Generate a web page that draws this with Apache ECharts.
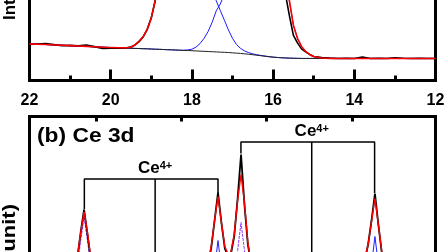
<!DOCTYPE html>
<html>
<head>
<meta charset="utf-8">
<script src="https://cdn.jsdelivr.net/npm/echarts@6/dist/echarts.min.js"></script>
<style>
html,body{margin:0;padding:0;background:#fff;}
#chart{width:448px;height:252px;}
</style>
</head>
<body>
<div id="chart"></div>
<script>
// ---------- (a) top panel: energy (eV) ----------
const topEnergy = [22.0,21.8,21.6,21.4,21.2,21.0,20.8,20.6,20.4,20.2,20.0,19.8,19.6,
  19.5,19.4,19.3,19.2,19.1,19.0,18.9,18.8,18.7,18.6,18.5,18.4,18.3,18.2,18.1,18.0,
  17.9,17.8,17.7,17.6,17.5,17.4,17.3,17.2,17.1,17.0,16.9,16.8,16.7,16.6,16.5,16.4,
  16.3,16.2,16.1,16.0,15.9,15.8,15.7,15.6,15.5,15.4,15.3,15.2,15.1,15.0,
  14.8,14.6,14.4,14.2,14.0,13.8,13.6,13.4,13.2,13.0,12.8,12.6,12.4,12.2,12.0];
const topData = [36,36.4,36.8,35.8,34.6,35,34.5,35.3,33.8,32,32.2,32.3,32.7,
  33.5,35.5,38.8,43.5,51,62.5,80.5,96,110,122,134,141,145,146,144,141,
  137,130,124,119,118,120,118,118,121,124,131,139,148,154,158,159,
  157,153,146,137,124,108,87,65,45,37.5,31.5,28.5,26,24,
  22.8,22.3,22,22.1,22,23.3,22,22.1,22,22.6,22.2,22,22.1,22,22];
const topFit = [36.5,36.2,35.9,35.5,35.2,34.8,34.4,34.0,33.6,33.2,32.9,32.6,32.7,
  33.4,35.5,39.4,43.7,51.1,62.4,80.2,95.1,109.9,122.7,133.6,140.4,144.2,145.2,144.5,141.2,
  136.3,129.8,124.1,118.9,118.2,120.5,117.8,118.1,120.4,124.1,130.8,139,147.4,153.8,157.6,158.7,
  158,154.4,148.8,141.3,131,118.7,102.5,79.8,55.2,42.1,34,29,26,24,
  22.5,22.1,22,22,22,22,22,22,22,22,22,22,22,22,22];
const topBackground = [36.5,36.2,35.9,35.5,35.2,34.8,34.4,34.0,33.6,33.2,32.9,32.6,32.3,
  32.2,32.0,31.9,31.7,31.6,31.4,31.2,31.1,30.9,30.7,30.6,30.4,30.2,30.0,29.9,29.7,
  29.5,29.3,29.1,28.9,28.7,28.5,28.3,28.1,27.9,27.6,27.3,27.0,26.6,26.2,25.7,25.2,
  24.7,24.2,23.7,23.3,23.0,22.7,22.5,22.3,22.2,22.1,22.0,22,22,22,
  22,22,22,22,22,22,22,22,22,22,22,22,22,22,22];
const topPeak1 = [36.5,36.2,35.9,35.5,35.2,34.8,34.4,34.0,33.6,33.2,32.9,32.6,32.7,
  33.4,35.5,39.4,43.7,51.1,62.4,80.2,95.1,109.9,122.7,133.6,140.4,144.2,145.0,143.9,139.7,
  132.5,122.3,111.1,98.9,88.7,79.5,69.8,60.1,50.4,42.1,35.8,32.0,29.4,27.8,26.6,25.7,
  25.0,24.4,23.8,23.3,23.0,22.7,22.5,22.3,22.2,22.1,22,22,22,22,
  22,22,22,22,22,22,22,22,22,22,22,22,22,22,22];
const topPeak2 = [36.5,36.2,35.9,35.5,35.2,34.8,34.4,34.0,33.6,33.2,32.9,32.6,32.3,
  32.2,32.0,31.9,31.7,31.6,31.4,31.2,31.1,30.9,30.7,30.6,30.4,30.2,30.2,30.5,31.2,
  33.3,36.8,42.1,48.9,58.2,69.5,76.3,86.1,97.9,109.6,122.3,134,144.6,152.2,156.7,158.2,
  157.7,154.2,148.7,141.3,131,118.7,102.5,79.8,55.2,42.1,34,29,26,24,
  22.5,22.1,22,22,22,22,22,22,22,22,22,22,22,22,22];
const topTicks = [22,20,18,16,14,12];

// ---------- (b) Ce 3d panel: binding energy (eV) ----------
const ceEnergy = [923,921,919,918.0,917.6,917.2,916.8,916.4,916.0,915.6,
  915.2,914.8,914.0,913,912,911,910,909,908,907,
  906,905,904,903,902.3,901.9,901.5,901.1,900.7,900.3,
  899.9,899.5,899.2,898.8,898.4,898.0,897.6,897.2,896.8,896.4,
  896.0,895,894,893,892,891,890,889,888,887,
  886,885,884.3,883.9,883.5,883.1,882.7,882.3,881.9,881.5,
  881.1,880.7,880.3,880,879,878,877,876,875];
const ceData = [12,13,15,17,21,29,42,53.5,41,28,
  20,16,13,12,12.5,13,14,16,19,21,
  19,17,17,19,22,26,34,48,62,47,
  34,30,31,40,59,81,56,36,26,21,
  19,17,16,17,19,22,24,26,25,22,
  19,19,21,24,28,36,48,61.5,46,32,
  24,19,16,14,11,9,8,7,6.5];
const ceFit = [12.5,13.5,15,17.5,21.5,29.5,42,52.3,42,29,
  20.5,16.5,13.5,12.5,12.5,13,14,16,18.5,20.5,
  19.5,17.5,17,19,22.5,27,35,48,60,47,
  35,31,32,41,58,71,57,37,26,21,
  19,17,16.5,17,19,21.5,24,25.5,25,22,
  19.5,19,21,24,28.5,36,47.5,59,46,32.5,
  24,19.5,16,14.5,11.5,9.5,8,7,6.5];
const ceComp1 = [8,8.5,10,12,16,24,38,49.5,38,24,
  16,12,10,10,10,10,10,10,10,10,
  10,10,10,10,10,10,10,10,10,10,
  10,10,11,18,33,47,33,18,12,10.5,
  10,9.5,9.5,9.5,9.5,9.5,9.5,9.5,9.5,9.5,
  9.5,9.5,9.5,9.5,9.5,9.5,9.5,9.5,9.5,9.5,
  9.5,9.5,9.5,9.5,9,8.5,8,7,6.5];
const ceComp2 = [8,8.5,9.5,10,10,10,10,10,10,10,
  10,10,10,10,10,10,10,10,10,10,
  10,10,10,10,10,12,16,24,38,24,
  15,11,10,10,10,10,10,10,10,10,
  10,10,10,10,10,10,10,10,10,10,
  10,10,10,11,12.5,16,26,40,26,15,
  11.5,10.5,10,9.5,9,8.5,8,7,6.5];
const ceMajorTicks = [920,910,900,890,880];
const ceMinorTicks = [915,905,895,885];
// Ce4+ doublet brackets
const bracket1X = [916.37,916.37,900.70,900.70];
const bracket1Y = [53.75,68.75,68.75,61.75];
const stem1X = [908.07,908.07];
const stem1Y = [68.75,0];
const bracket2X = [898.01,898.01,882.34,882.34];
const bracket2Y = [81.5,87.25,87.25,61.75];
const stem2X = [889.71,889.71];
const stem2Y = [87.25,0];
const labelX = [908.07,889.71];
const labelY = [68.75,87.25];

const FONT = '"Liberation Sans", Arial, Helvetica, sans-serif';
const pairs = (xs, ys) => xs.map((x, i) => [x, ys[i]]);

const chart = echarts.init(document.getElementById('chart'), null, {renderer: 'canvas'});

function lineS(name, xi, yi, xs, ys, color, width, z, dash) {
  return {
    name, type: 'line', xAxisIndex: xi, yAxisIndex: yi,
    data: pairs(xs, ys), symbol: 'none', z: z, silent: true,
    lineStyle: {color: color, width: width, type: dash || 'solid'},
    clip: true
  };
}

const option = {
  animation: false,
  backgroundColor: '#ffffff',
  grid: [
    {left: 29.5, right: 12.5, top: -120, height: 200.5, outerBoundsMode: 'none', containLabel: false,
      show: true, borderColor: '#000', borderWidth: 3, backgroundColor: 'transparent'},
    {left: 29.5, right: 12.5, top: 116.5, height: 200, outerBoundsMode: 'none', containLabel: false,
      show: true, borderColor: '#000', borderWidth: 3, backgroundColor: 'transparent'}
  ],
  xAxis: [
    {
      type: 'value', gridIndex: 0, inverse: true, min: 12, max: 22, interval: 2,
      axisLine: {show: false},
      axisTick: {show: true, inside: true, length: 11, lineStyle: {color: '#000', width: 3}},
      minorTick: {show: true, splitNumber: 2, length: 5, lineStyle: {color: '#000', width: 3}},
      axisLabel: {show: true, margin: 12, color: '#000', fontFamily: FONT, fontWeight: 'bold', fontSize: 16,
        showMinLabel: true, showMaxLabel: true,
        formatter: v => topTicks.includes(v) ? String(v) : ''},
      splitLine: {show: false}, minorSplitLine: {show: false}
    },
    {
      type: 'value', gridIndex: 1, position: 'top', inverse: true, min: 875.2, max: 922.8,
      axisLine: {show: false},
      axisTick: {show: true, inside: true, length: 11, customValues: ceMajorTicks, lineStyle: {color: '#000', width: 3}},
      axisLabel: {show: false},
      splitLine: {show: false}
    },
    {
      type: 'value', gridIndex: 1, position: 'top', inverse: true, min: 875.2, max: 922.8,
      axisLine: {show: false},
      axisTick: {show: true, inside: true, length: 5, customValues: ceMinorTicks, lineStyle: {color: '#000', width: 3}},
      axisLabel: {show: false},
      splitLine: {show: false}
    }
  ],
  yAxis: [
    {type: 'value', gridIndex: 0, min: 0, max: 200, axisLine: {show: false}, axisTick: {show: false}, axisLabel: {show: false}, splitLine: {show: false}},
    {type: 'value', gridIndex: 1, min: 0, max: 100, axisLine: {show: false}, axisTick: {show: false}, axisLabel: {show: false}, splitLine: {show: false}}
  ],
  series: [
    lineS('peak1', 0, 0, topEnergy, topPeak1, '#1a1aff', 1, 2),
    lineS('peak2', 0, 0, topEnergy, topPeak2, '#1a1aff', 1, 2),
    lineS('background', 0, 0, topEnergy, topBackground, '#222', 1, 3),
    lineS('data', 0, 0, topEnergy, topData, '#000', 1.6, 4),
    lineS('fit', 0, 0, topEnergy, topFit, '#ff0000', 1.6, 5),

    lineS('ce comp1', 1, 1, ceEnergy, ceComp1, '#9933ff', 1, 2, [3, 1]),
    lineS('ce comp2', 1, 1, ceEnergy, ceComp2, '#2020ff', 1, 2),
    lineS('ce data', 1, 1, ceEnergy, ceData, '#000', 1.8, 4),
    lineS('ce fit', 1, 1, ceEnergy, ceFit, '#ff0000', 1.4, 5),
    lineS('bracket1', 1, 1, bracket1X, bracket1Y, '#000', 1.5, 6),
    lineS('stem1', 1, 1, stem1X, stem1Y, '#000', 1.5, 6),
    lineS('bracket2', 1, 1, bracket2X, bracket2Y, '#000', 1.5, 6),
    lineS('stem2', 1, 1, stem2X, stem2Y, '#000', 1.5, 6),
    {
      type: 'scatter', xAxisIndex: 1, yAxisIndex: 1, symbolSize: 0, silent: true, z: 7,
      itemStyle: {opacity: 1},
      data: pairs(labelX, labelY),
      label: {
        show: true, position: 'top', distance: 2, color: '#000', opacity: 1,
        formatter: '{a|Ce}{b|4+}',
        rich: {
          a: {fontFamily: FONT, fontWeight: 'bold', fontSize: 17, color: '#000'},
          b: {fontFamily: FONT, fontWeight: 'bold', fontSize: 11, color: '#000', verticalAlign: 'top', padding: [0, 0, 6, 0]}
        }
      }
    }
  ],
  graphic: [
    {type: 'text', x: 10, y: 20, rotation: Math.PI / 2, silent: true,
      style: {text: 'Intensity (arb. unit)', fill: '#000', fontFamily: FONT, fontWeight: 'bold', fontSize: 17,
        textAlign: 'left', textVerticalAlign: 'middle', align: 'left', verticalAlign: 'middle'}},
    {type: 'text', x: 10, y: 204, rotation: Math.PI / 2, scaleX: 1.22, silent: true,
      style: {text: 'Intensity (arb. unit)', fill: '#000', fontFamily: FONT, fontWeight: 'bold', fontSize: 18,
        textAlign: 'right', textVerticalAlign: 'middle', align: 'right', verticalAlign: 'middle'}},
    {type: 'text', x: 37, y: 136.5, scaleX: 1.14, silent: true,
      style: {text: '(b) Ce 3d', fill: '#000', fontFamily: FONT, fontWeight: 'bold', fontSize: 20,
        textAlign: 'left', textVerticalAlign: 'middle', align: 'left', verticalAlign: 'middle'}}
  ]
};
chart.setOption(option);
</script>
</body>
</html>
